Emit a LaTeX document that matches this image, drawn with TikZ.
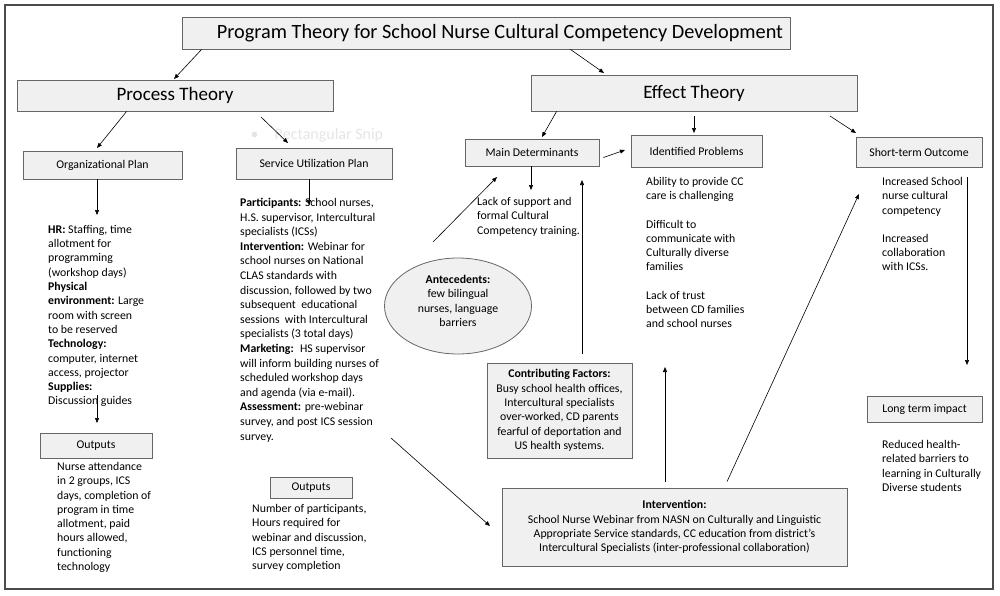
\documentclass[tikz,border=0pt]{standalone}
\usepackage{fontspec}
\setmainfont{Carlito}
\usepackage{tikz}
\usetikzlibrary{arrows.meta,positioning,shapes.geometric}
\newcommand{\bodyfont}{\fontsize{11.8}{14.3}\selectfont}
\tikzset{
  box/.style={draw=black!60, fill=black!6, line width=0.8pt, inner sep=0pt, font=\bodyfont, align=center},
  bigbox/.style={box, font=\fontsize{19}{22}\selectfont},
  txt/.style={anchor=north west, inner sep=0pt, align=left, font=\bodyfont},
  arr/.style={-{Triangle[length=5pt,width=4pt]}, line width=0.6pt, black},
}
\begin{document}
\begin{tikzpicture}[x=1pt,y=-1pt]
\useasboundingbox (0,0) rectangle (1000,595);
\draw[black!70, line width=1.6pt] (5,5) rectangle (993,589);
% top level
\node[bigbox, minimum width=608, minimum height=32, font=\fontsize{20.3}{23}\selectfont] (title) at (486,33) {\hspace*{28pt}Program Theory for School Nurse Cultural Competency Development};
\node[bigbox, minimum width=316, minimum height=31] (proc) at (175,95.5) {Process Theory};
\node[bigbox, minimum width=326, minimum height=36] (eff) at (694,93) {Effect Theory};
% process side
\node[box, minimum width=159, minimum height=28] (org) at (102.5,165) {Organizational Plan};
\node[box, minimum width=156, minimum height=31] (sup) at (314,163.5) {Service Utilization Plan};
\node[box, minimum width=112, minimum height=25] (outA) at (96,445.5) {Outputs};
\node[box, minimum width=82, minimum height=21] (outB) at (311,487.5) {Outputs};
\node[txt] (hr) at (48,225) {\textbf{HR:} Staffing, time\\
allotment for\\
programming\\
(workshop days)\\
\textbf{Physical}\\
\textbf{environment:} Large\\
room with screen\\
to be reserved\\
\textbf{Technology:}\\
computer, internet\\
access, projector\\
\textbf{Supplies:}\\
Discussion guides};
\node[txt] (outAtxt) at (57,462) {Nurse attendance\\
in 2 groups, ICS\\
days, completion of\\
program in time\\
allotment, paid\\
hours allowed,\\
functioning\\
technology};
\node[txt, font=\fontsize{11.8}{14.6}\selectfont] (part) at (240,198) {\textbf{Participants:} School nurses,\\
H.S. supervisor, Intercultural\\
specialists (ICSs)\\
\textbf{Intervention:} Webinar for\\
school nurses on National\\
CLAS standards with\\
discussion, followed by two\\
subsequent~ educational\\
sessions~ with Intercultural\\
specialists (3 total days)\\
\textbf{Marketing:}~ HS supervisor\\
will inform building nurses of\\
scheduled workshop days\\
and agenda (via e-mail).\\
\textbf{Assessment:} pre-webinar\\
survey, and post ICS session\\
survey.};
\node[txt] (outBtxt) at (252,504) {Number of participants,\\
Hours required for\\
webinar and discussion,\\
ICS personnel time,\\
survey completion};
\node[font=\fontsize{16}{18}\selectfont, text=black!10, anchor=west] (snip) at (247,135) {\textbullet\quad Rectangular Snip};
% effect side
\node[box, minimum width=134, minimum height=27] (mdet) at (532,152.5) {Main Determinants};
\node[box, minimum width=131, minimum height=32] (iprob) at (696.5,151) {Identified Problems};
\node[box, minimum width=126, minimum height=30] (sto) at (919,152) {Short-term Outcome};
\node[box, minimum width=115, minimum height=26] (lti) at (924.5,409) {Long term impact};
\node[txt] (lack) at (477,197) {Lack of support and\\
formal Cultural\\
Competency training.};
\node[txt] (prob) at (646,177) {Ability to provide CC\\
care is challenging\\[14pt]
Difficult to\\
communicate with\\
Culturally diverse\\
families\\[14pt]
Lack of trust\\
between CD families\\
and school nurses};
\node[txt] (sttxt) at (882,177) {Increased School\\
nurse cultural\\
competency\\[14pt]
Increased\\
collaboration\\
with ICSs.};
\node[txt] (lttxt) at (882,440) {Reduced health-\\
related barriers to\\
learning in Culturally\\
Diverse students};
\node[ellipse, draw=black!60, fill=black!6, line width=0.8pt, minimum width=147, minimum height=96, inner sep=0pt, font=\bodyfont, align=center] (ante) at (458,306) {\textbf{Antecedents:}\\ few bilingual\\ nurses, language\\ barriers\rule[-10pt]{0pt}{0pt}};
\node[box, minimum width=145, minimum height=95] (cfac) at (559.5,410.5) {\textbf{Contributing Factors:}\\
Busy school health offices,\\
Intercultural specialists\\
over-worked, CD parents\\
fearful of deportation and\\
US health systems.};
\node[box, minimum width=345, minimum height=78] (interv) at (674.5,527) {\textbf{Intervention:}\\
School Nurse Webinar from NASN on Culturally and Linguistic\\
Appropriate Service standards, CC education from district's\\
Intercultural Specialists (inter-professional collaboration)};
% free arrow ends
\coordinate (toProc) at (174,79);
\coordinate (toEff) at (604,73);
\coordinate (toOrg) at (97,148);
\coordinate (fromProc) at (261,117);
\coordinate (toSup) at (288,143);
\coordinate (toMdet) at (542,137);
\coordinate (toProb) at (694,133);
\coordinate (fromEff) at (830,116);
\coordinate (toSto) at (856,133);
\coordinate (toProbL) at (625,150);
\coordinate (toLack) at (531,190);
\coordinate (fromAnte) at (433,242);
\coordinate (toMdetA) at (497,177);
\coordinate (toMdetC) at (582,180);
\coordinate (toProbI) at (665,367);
\coordinate (toStoI) at (859,194);
\coordinate (fromSt) at (967,177);
\coordinate (toLti) at (967,365);
\coordinate (toHr) at (97,215);
\coordinate (fromHr) at (97,395);
\coordinate (toOutA) at (97,423);
\coordinate (toPart) at (309,205);
\coordinate (fromPart) at (391,438);
\coordinate (toInterv) at (490,526);
% arrows
\draw[arr] ([xshift=20pt]title.south west) -- (toProc);
\draw[arr] ([xshift=-220pt]title.south east) -- (toEff);
\draw[arr] ([xshift=110pt]proc.south west) -- (toOrg);
\draw[arr] (fromProc) -- (toSup);
\draw[arr] ([xshift=26pt]eff.south west) -- (toMdet);
\draw[arr] ([yshift=-5pt]eff.south) -- (toProb);
\draw[arr] (fromEff) -- (toSto);
\draw[arr] ([xshift=4pt,yshift=-5pt]mdet.east) -- (toProbL);
\draw[arr] ([xshift=-1pt]mdet.south) -- (toLack);
\draw[arr] (fromAnte) -- (toMdetA);
\draw[arr] ([xshift=22.5pt,yshift=9pt]cfac.north) -- (toMdetC);
\draw[arr] ([xshift=-9.5pt,yshift=6pt]interv.north) -- (toProbI);
\draw[arr] ([xshift=52.5pt,yshift=6pt]interv.north) -- (toStoI);
\draw[arr] (fromSt) -- (toLti);
\draw[arr] ([xshift=-5.5pt]org.south) -- (toHr);
\draw[arr] (fromHr) -- (toOutA);
\draw[arr] ([xshift=-5pt]sup.south) -- (toPart);
\draw[arr] (fromPart) -- (toInterv);
\end{tikzpicture}
\end{document}
